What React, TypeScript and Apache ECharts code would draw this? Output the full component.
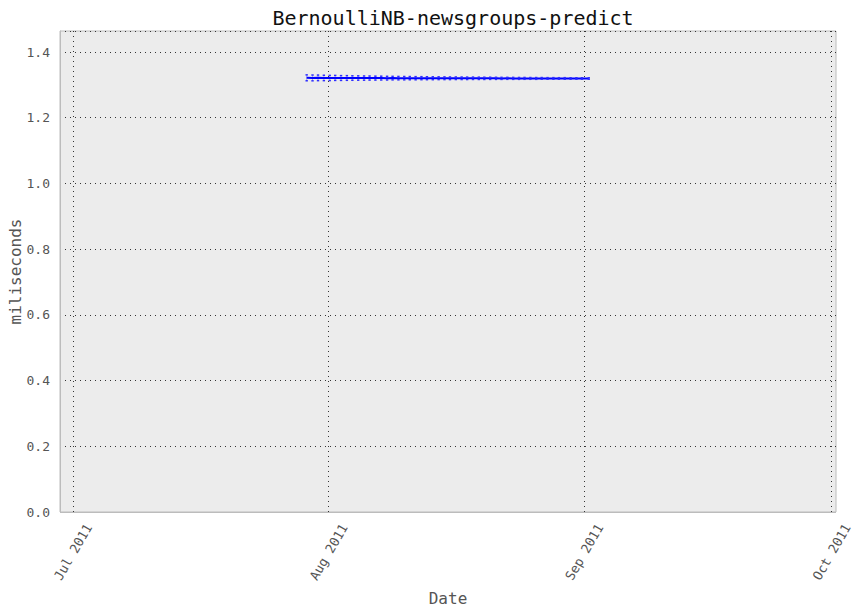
import React, { useEffect, useRef } from 'react';
import * as echarts from 'echarts';

// benchmark timestamps (local time) and timings in milliseconds
const dates = [
  '2011-07-29 08:00', '2011-07-30 01:00', '2011-07-30 17:00', '2011-07-31 10:00',
  '2011-08-01 03:00', '2011-08-01 19:00', '2011-08-02 12:00', '2011-08-03 05:00',
  '2011-08-03 21:00', '2011-08-04 14:00', '2011-08-05 07:00', '2011-08-05 23:00',
  '2011-08-06 16:00', '2011-08-07 09:00', '2011-08-08 02:00', '2011-08-08 18:00',
  '2011-08-09 11:00', '2011-08-10 04:00', '2011-08-10 20:00', '2011-08-11 13:00',
  '2011-08-12 06:00', '2011-08-12 22:00', '2011-08-13 15:00', '2011-08-14 08:00',
  '2011-08-15 01:00', '2011-08-15 17:00', '2011-08-16 10:00', '2011-08-17 03:00',
  '2011-08-17 19:00', '2011-08-18 12:00', '2011-08-19 05:00', '2011-08-19 21:00',
  '2011-08-20 14:00', '2011-08-21 07:00', '2011-08-21 23:00', '2011-08-22 16:00',
  '2011-08-23 09:00', '2011-08-24 02:00', '2011-08-24 18:00', '2011-08-25 11:00',
  '2011-08-26 04:00', '2011-08-26 20:00', '2011-08-27 13:00', '2011-08-28 06:00',
  '2011-08-28 22:00', '2011-08-29 15:00', '2011-08-30 08:00', '2011-08-31 01:00',
  '2011-08-31 17:00', '2011-09-01 13:00',
];

const timings = [
  1.3215, 1.3212, 1.3214, 1.3211, 1.3210, 1.3212, 1.3209, 1.3210,
  1.3208, 1.3209, 1.3207, 1.3208, 1.3206, 1.3207, 1.3205, 1.3206,
  1.3205, 1.3204, 1.3205, 1.3203, 1.3204, 1.3203, 1.3202, 1.3203,
  1.3202, 1.3201, 1.3202, 1.3201, 1.3200, 1.3201, 1.3200, 1.3199,
  1.3200, 1.3199, 1.3198, 1.3199, 1.3198, 1.3197, 1.3198, 1.3197,
  1.3196, 1.3197, 1.3196, 1.3196, 1.3195, 1.3196, 1.3195, 1.3195,
  1.3194, 1.3194,
];

const errors = [
  0.0090, 0.0088, 0.0085, 0.0082, 0.0079, 0.0076, 0.0073, 0.0071,
  0.0068, 0.0066, 0.0064, 0.0062, 0.0060, 0.0058, 0.0056, 0.0054,
  0.0052, 0.0051, 0.0049, 0.0048, 0.0046, 0.0045, 0.0044, 0.0042,
  0.0041, 0.0040, 0.0039, 0.0038, 0.0037, 0.0036, 0.0035, 0.0034,
  0.0033, 0.0032, 0.0031, 0.0030, 0.0030, 0.0029, 0.0028, 0.0027,
  0.0027, 0.0026, 0.0025, 0.0025, 0.0024, 0.0024, 0.0023, 0.0022,
  0.0022, 0.0021,
];

const monthTicks = ['2011-07-01', '2011-08-01', '2011-09-01', '2011-10-01'];
const monthNames = ['Jan', 'Feb', 'Mar', 'Apr', 'May', 'Jun', 'Jul', 'Aug', 'Sep', 'Oct', 'Nov', 'Dec'];
const yTicks = [0, 0.2, 0.4, 0.6, 0.8, 1.0, 1.2, 1.4];

const FONT = '"DejaVu Sans Mono", monospace';

const toTime = (s: string) => new Date(s.replace(' ', 'T')).getTime();

const App: React.FC = () => {
  const chartRef = useRef<HTMLDivElement>(null);

  useEffect(() => {
    if (!chartRef.current) return;
    const chart = echarts.init(chartRef.current, undefined, { renderer: 'svg' });

    const times = dates.map(toTime);
    const tickTimes = monthTicks.map(d => toTime(d + ' 00:00'));
    const dayMs = 24 * 3600 * 1000;

    const gridLine = { color: '#333', width: 1, type: [1, 4] as number[] };

    const option = {
      animation: false,
      backgroundColor: '#ffffff',
      title: {
        text: 'BernoulliNB-newsgroups-predict',
        left: 448,
        top: 3,
        textAlign: 'center',
        textStyle: { fontFamily: FONT, fontSize: 20, fontWeight: 'normal', color: '#111' },
      },
      grid: {
        left: 60, top: 31, right: 22, bottom: 101,
        outerBoundsMode: 'none',
        containLabel: false,
        show: true, backgroundColor: '#ececec', borderColor: '#bcbcbc', borderWidth: 1,
      },
      xAxis: {
        type: 'value',
        min: tickTimes[0] - 1.58 * dayMs,
        max: tickTimes[3] + 0.52 * dayMs,
        name: 'Date',
        nameLocation: 'middle',
        nameGap: 78,
        nameMoveOverlap: false,
        nameTextStyle: { fontFamily: FONT, fontSize: 16, color: '#555' },
        axisLine: { show: false },
        axisTick: { show: false },
        splitLine: { show: false },
        axisLabel: {
          customValues: tickTimes,
          rotate: 60,
          align: 'center',
          verticalAlign: 'middle',
          margin: 40,
          fontFamily: FONT,
          fontSize: 13,
          color: '#555',
          formatter: (v: number) => {
            const d = new Date(v);
            return monthNames[d.getMonth()] + ' ' + d.getFullYear();
          },
        },
      },
      yAxis: {
        type: 'value',
        min: 0,
        max: 1.464,
        interval: 0.2,
        name: 'miliseconds',
        nameLocation: 'middle',
        nameGap: 37,
        nameMoveOverlap: false,
        nameTextStyle: { fontFamily: FONT, fontSize: 16, color: '#555' },
        axisLine: { show: true, lineStyle: { color: '#bcbcbc', width: 1 } },
        axisTick: { show: false },
        splitLine: { show: true, lineStyle: gridLine },
        axisLabel: {
          showMaxLabel: false,
          margin: 10,
          fontFamily: FONT,
          fontSize: 13,
          color: '#555',
          formatter: (v: number) => (yTicks.some(t => Math.abs(t - v) < 1e-6) ? v.toFixed(1) : ''),
        },
      },
      series: [
        {
          // vertical month gridlines
          type: 'line',
          data: [],
          silent: true,
          markLine: {
            symbol: 'none',
            silent: true,
            label: { show: false },
            lineStyle: gridLine,
            data: tickTimes.map(t => ({ xAxis: t })),
          },
        },
        {
          // solid bottom frame drawn over the 0.0 gridline
          type: 'line',
          data: [],
          silent: true,
          z: 5,
          markLine: {
            symbol: 'none',
            silent: true,
            label: { show: false },
            lineStyle: { color: '#bcbcbc', width: 1, type: 'solid' },
            data: [{ yAxis: 0 }],
          },
        },
        {
          type: 'line',
          data: times.map((t, i) => [t, timings[i]]),
          showSymbol: false,
          lineStyle: { color: '#0000ff', width: 2 },
          z: 3,
        },
        {
          type: 'custom',
          data: times.map((t, i) => [t, timings[i] - errors[i], timings[i] + errors[i]]),
          z: 4,
          renderItem: (_params: any, api: any) => {
            const lo = api.coord([api.value(0), api.value(1)]);
            const hi = api.coord([api.value(0), api.value(2)]);
            const cap = 1.2;
            return {
              type: 'group',
              children: [
                {
                  type: 'line',
                  shape: { x1: lo[0], y1: lo[1], x2: hi[0], y2: hi[1] },
                  style: { stroke: 'rgba(0,0,255,0.3)', lineWidth: 1 },
                },
                {
                  type: 'line',
                  shape: { x1: lo[0] - cap, y1: lo[1], x2: lo[0] + cap, y2: lo[1] },
                  style: { stroke: '#3030ff', lineWidth: 1.5 },
                },
                {
                  type: 'line',
                  shape: { x1: hi[0] - cap, y1: hi[1], x2: hi[0] + cap, y2: hi[1] },
                  style: { stroke: '#3030ff', lineWidth: 1.5 },
                },
              ],
            };
          },
        },
      ],
    };

    chart.setOption(option);
    return () => chart.dispose();
  }, []);

  return <div ref={chartRef} style={{ width: 858, height: 613, position: 'absolute', left: 0, top: 0 }} />;
};

export default App;
